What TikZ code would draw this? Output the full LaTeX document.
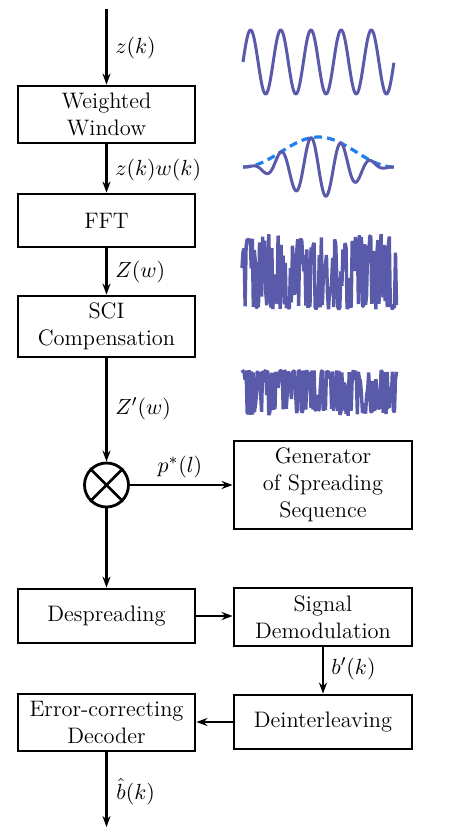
\documentclass[tikz,border=0pt]{standalone}
\usetikzlibrary{arrows.meta}
\definecolor{wavec}{RGB}{90,90,170}
\definecolor{envc}{RGB}{30,128,240}
\begin{document}
\begin{tikzpicture}[x=0.5pt,y=-0.5pt,
  box/.style={draw, line width=1.4pt, align=center, inner sep=0pt, minimum width=88.5pt, font=\fontsize{11.2}{13.5}\selectfont},
  rbox/.style={box, minimum width=89pt},
  lbl/.style={font=\fontsize{11.2}{13}\selectfont, inner sep=0pt, anchor=west},
  arr/.style={line width=1.1pt, -{Stealth[length=5.5pt,width=4pt]}},
  wave/.style={draw=wavec, line width=1.5pt, line join=round},
  env/.style={draw=envc, line width=1.6pt, dash pattern=on 4pt off 2.5pt},
  noise/.style={draw=wavec, line width=1.7pt, line join=bevel}]
\useasboundingbox (0,0) rectangle (474,835);

% blocks
\node[box, minimum height=28.5pt] (ww) at (106.5,114.5) {Weighted\\Window};
\node[box, minimum height=26.5pt] (fft) at (106.5,220.5) {FFT};
\node[box, minimum height=30.5pt] (sci) at (106.5,326.5) {SCI\\Compensation};
\node[draw, circle, line width=1.4pt, minimum size=22pt, inner sep=0pt] (mul) at (106.5,485) {};
\draw[line width=1.4pt] (mul.north west) -- (mul.south east) (mul.north east) -- (mul.south west);
\node[rbox, minimum height=44pt] (gen) at (323,485) {Generator\\of Spreading\\Sequence};
\node[box, minimum height=27pt] (desp) at (106.5,616) {Despreading};
\node[rbox, minimum height=29pt] (sig) at (323,617) {Signal\\Demodulation};
\node[rbox, minimum height=27pt] (deint) at (323,722) {Deinterleaving};
\node[box, minimum height=28.5pt] (ecd) at (106.5,722.5) {Error-correcting\\Decoder};

\coordinate (in) at (106.5,9);
\coordinate (out) at (106.5,827);

% connectors
\draw[arr] (in) -- (ww);
\draw[arr] (ww) -- (fft);
\draw[arr] (fft) -- (sci);
\draw[arr] (sci) -- (mul);
\draw[arr] (mul) -- (gen);
\draw[arr] (mul) -- (desp);
\draw[arr] (desp.east) -- (desp.east -| sig.west);
\draw[arr] (sig) -- (deint);
\draw[arr] (deint.west) -- (deint.west -| ecd.east);
\draw[arr] (ecd) -- (out);

% labels
\node[lbl] (l1) at (115,48) {$z(k)$};
\node[lbl] (l2) at (115,170) {$z(k)w(k)$};
\node[lbl] (l3) at (115,272) {$Z(w)$};
\node[lbl] (l4) at (115,409) {$Z'(w)$};
\node[lbl, anchor=center] (l5) at (180,467) {$p^{*}(l)$};
\node[lbl] (l6) at (331,669) {$b'(k)$};
\node[lbl] (l7) at (116,792) {$\hat{b}(k)$};

% waveforms
\draw[wave] plot[domain=0:1, samples=240, smooth] ({243+151*\x},{62-32*sin(5*360*\x)});
\draw[env] plot[domain=0:1, samples=60, smooth] ({243+151*\x},{167-30*(0.5-0.5*cos(360*\x))});
\draw[wave] plot[domain=0:1, samples=240, smooth] ({243+151*\x},{167-30*(0.5-0.5*cos(360*\x))*sin(5*360*\x)});

% spectrum plots (random, built as coordinate lists)
\pgfmathsetseed{5}
\gdef\pathA{}
\foreach \i in {1,...,150}{
  \pgfmathsetmacro\r{rnd}
  \pgfmathsetmacro\v{\r<0.3 ? 0.08*rnd : (\r<0.65 ? 0.75+0.25*rnd : 0.1+0.65*rnd)}
  \pgfmathsetmacro\xa{242+\i*1.03}
  \pgfmathsetmacro\ya{310-76*\v}
  \xdef\pathA{\pathA -- (\xa,\ya)}
}
\draw[noise] (242,268) \pathA;

\pgfmathsetseed{13}
\gdef\pathB{}
\foreach \i in {1,...,150}{
  \pgfmathsetmacro\r{rnd}
  \pgfmathsetmacro\v{\r<0.35 ? 0.06*rnd : (\r<0.75 ? 0.8+0.2*rnd : 0.1+0.7*rnd)}
  \pgfmathsetmacro\xa{242+\i*1.03}
  \pgfmathsetmacro\ya{370+46*\v}
  \xdef\pathB{\pathB -- (\xa,\ya)}
}
\draw[noise] (242,370) \pathB;
\end{tikzpicture}
\end{document}
